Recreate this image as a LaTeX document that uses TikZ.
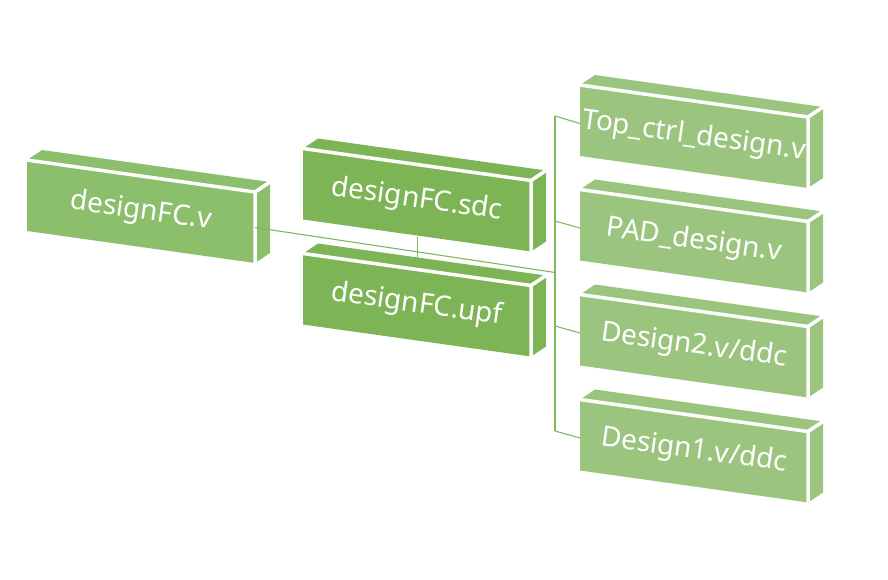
\documentclass[tikz,border=0pt]{standalone}
\usepackage{fontspec}
\setmainfont{Noto Sans}
\definecolor{gleft}{RGB}{139,191,108}
\definecolor{gmid}{RGB}{125,181,86}
\definecolor{gright}{RGB}{155,197,127}
\definecolor{gline}{RGB}{128,184,92}
\def\BW{228}
\def\BS{32}
\def\BH{71}
\def\DX{15}
\def\DY{-10}
\newcommand\prismbox[5]{%
  \begin{scope}[shift={(#2,#3)}]
    \fill[#4] (0,0) -- (\BW,\BS) -- (\BW,\BS+\BH) -- (0,\BH) -- cycle;
    \fill[#4] (0,0) -- (\BW,\BS) -- (\BW+\DX,\BS+\DY) -- (\DX,\DY) -- cycle;
    \fill[#4] (\BW,\BS) -- (\BW+\DX,\BS+\DY) -- (\BW+\DX,\BS+\BH+\DY) -- (\BW,\BS+\BH) -- cycle;
    \draw[edge] (0,0) -- (\BW,\BS) -- (\BW,\BS+\BH);
    \draw[edge] (\BW,\BS) -- (\BW+\DX,\BS+\DY);
    \node[boxtext] (#1) at (\BW/2,\BS/2+\BH/2) {#5};
    \coordinate (#1-w) at (0,\BH/2);
    \coordinate (#1-e) at (\BW,\BS+\BH/2);
  \end{scope}}
\begin{document}
\begin{tikzpicture}[x=1pt,y=-1pt,
  edge/.style={draw=white,line width=3.5pt},
  boxtext/.style={text=white,font=\fontsize{28}{32}\selectfont,rotate=-8,inner sep=0pt},
  conn/.style={draw=gline,line width=1.1pt}]
\useasboundingbox (0,0) rectangle (888,579);
\prismbox{v}{27}{160}{gleft}{designFC.v}
\prismbox{sdc}{303}{148.5}{gmid}{designFC.sdc}
\prismbox{upf}{303}{253.5}{gmid}{designFC.upf}
\prismbox{top}{580}{85}{gright}{Top\_ctrl\_design.v}
\prismbox{pad}{580}{189.5}{gright}{PAD\_design.v}
\prismbox{d2}{580}{294.5}{gright}{Design2.v/ddc}
\prismbox{d1}{580}{399.5}{gright}{Design1.v/ddc}
% bus coordinates
\coordinate (bj) at (555,272.5);
\coordinate (b1) at (555,116);
\coordinate (b2) at (555,221);
\coordinate (b3) at (555,326);
\coordinate (b4) at (555,431);
\coordinate (s1) at (417,237);
\coordinate (s2) at (417,268);
\draw[conn] (v-e) -- (bj);
\draw[conn] (b1) -- (b4);
\draw[conn] (b1) -- ([yshift=-3pt]top-w);
\draw[conn] (b2) -- ([yshift=-3pt]pad-w);
\draw[conn] (b3) -- ([yshift=-3pt]d2-w);
\draw[conn] (b4) -- ([yshift=-3pt]d1-w);
\draw[conn,line width=0.8pt] (s1) -- (s2);
\end{tikzpicture}
\end{document}
